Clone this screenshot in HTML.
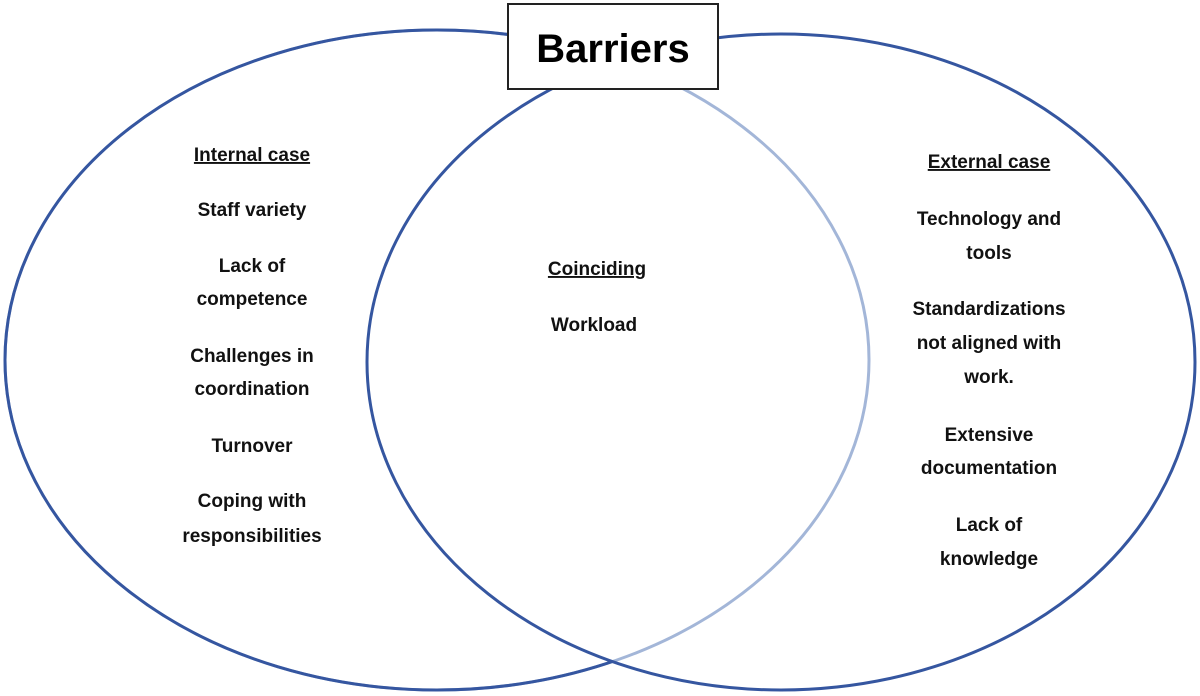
<!DOCTYPE html>
<html><head><meta charset="utf-8"><style>
html,body{margin:0;padding:0;background:#fff;width:1200px;height:696px;overflow:hidden}
text{font-family:"Liberation Sans",sans-serif;font-weight:bold;font-size:19px;fill:#111;text-anchor:middle}
</style></head><body>
<svg width="1200" height="696" viewBox="0 0 1200 696" xmlns="http://www.w3.org/2000/svg">
<mask id="m"><rect width="1200" height="696" fill="#fff"/><ellipse cx="781" cy="362" rx="414" ry="328" fill="#000"/></mask>
<ellipse cx="437" cy="360" rx="432" ry="330" fill="none" stroke="#a3b6d8" stroke-width="3"/>
<ellipse cx="437" cy="360" rx="432" ry="330" fill="none" stroke="#3556a0" stroke-width="3" mask="url(#m)"/>
<ellipse cx="781" cy="362" rx="414" ry="328" fill="none" stroke="#3556a0" stroke-width="3"/>
<rect x="508" y="4" width="210" height="85" fill="#fff" stroke="#222" stroke-width="2"/>
<text x="613" y="62" style="font-size:40px;fill:#000">Barriers</text>
<g>
<text x="252" y="161" text-decoration="underline">Internal case</text>
<text x="252" y="216">Staff variety</text>
<text x="252" y="272">Lack of</text>
<text x="252" y="305">competence</text>
<text x="252" y="362">Challenges in</text>
<text x="252" y="395">coordination</text>
<text x="252" y="452">Turnover</text>
<text x="252" y="507">Coping with</text>
<text x="252" y="542">responsibilities</text>
<text x="597" y="275" text-decoration="underline">Coinciding</text>
<text x="594" y="331">Workload</text>
<text x="989" y="168" text-decoration="underline">External case</text>
<text x="989" y="225">Technology and</text>
<text x="989" y="259">tools</text>
<text x="989" y="315">Standardizations</text>
<text x="989" y="349">not aligned with</text>
<text x="989" y="383">work.</text>
<text x="989" y="441">Extensive</text>
<text x="989" y="474">documentation</text>
<text x="989" y="531">Lack of</text>
<text x="989" y="565">knowledge</text>
</g>
</svg>
</body></html>
